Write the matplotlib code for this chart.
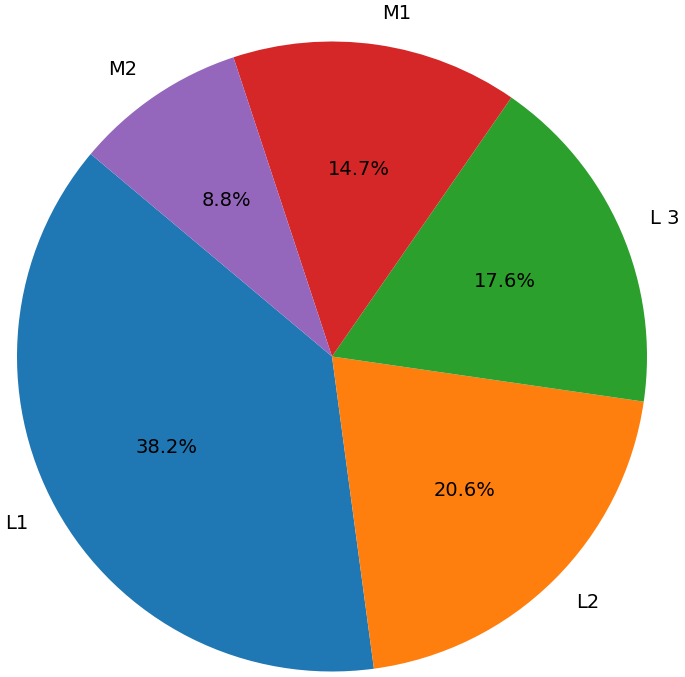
import numpy as np
import matplotlib.pyplot as plt

# Slice data (counts, shown as percentages)
labels = ["L1", "L2", "L 3", "M1", "M2"]
counts = [13, 7, 6, 5, 3]
colors = ["#1f77b4", "#ff7f0e", "#2ca02c", "#d62728", "#9467bd"]

fig = plt.figure(figsize=(6.85, 6.77), dpi=100)
ax = fig.add_axes([0, 0, 1, 1])

ax.pie(counts, labels=labels, colors=colors, autopct="%1.1f%%",
       startangle=140, textprops={"fontsize": 14})

# place the pie the same way as the reference crop
cx, cy, r = 332.0, 356.5, 315.0
ax.set_xlim(-cx / r, (685 - cx) / r)
ax.set_ylim(-(677 - cy) / r, cy / r)
ax.set_aspect("auto")
ax.axis("off")

fig.savefig("out.png", dpi=100)
